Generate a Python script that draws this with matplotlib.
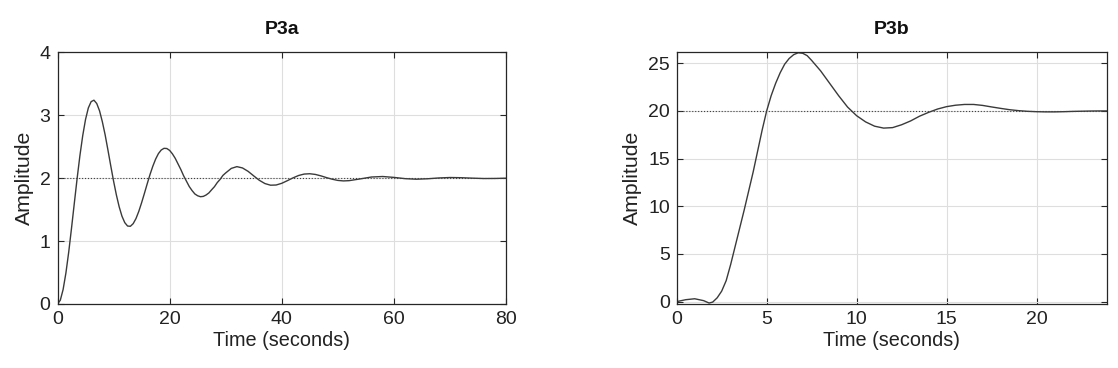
import matplotlib
matplotlib.use("Agg")
import matplotlib.pyplot as plt

plt.rcParams['font.family'] = ['Liberation Sans', 'DejaVu Sans']

# ---- P3a data ----
t_a = [0, 0.5, 1, 1.5, 2, 2.5, 3, 3.5, 4, 4.5, 5, 5.5, 6, 6.5, 7, 7.5, 8, 8.5,
       9, 9.5, 10, 10.5, 11, 11.5, 12, 12.5, 13, 13.5, 14, 14.5, 15, 15.5, 16,
       16.5, 17, 17.5, 18, 18.5, 19, 19.5, 20, 20.5, 21, 21.5, 22, 22.5, 23,
       23.5, 24, 24.5, 25, 25.5, 26, 26.5, 27, 27.5, 28, 28.5, 29, 29.5, 30,
       31, 32, 33, 34, 35, 36, 37, 38, 39, 40, 41, 42, 43, 44, 45, 46, 47, 48,
       49, 50, 51, 52, 54, 56, 58, 60, 62, 64, 66, 68, 70, 72, 74, 76, 78, 80]
y_a = [0.0, 0.060, 0.230, 0.493, 0.825, 1.205, 1.602, 1.995, 2.360, 2.676,
       2.933, 3.116, 3.216, 3.239, 3.186, 3.070, 2.896, 2.687, 2.445, 2.196,
       1.954, 1.734, 1.545, 1.395, 1.293, 1.239, 1.235, 1.277, 1.358, 1.472,
       1.609, 1.757, 1.910, 2.057, 2.189, 2.302, 2.390, 2.447, 2.474, 2.471,
       2.441, 2.386, 2.315, 2.226, 2.137, 2.037, 1.952, 1.867, 1.803, 1.749,
       1.720, 1.705, 1.710, 1.732, 1.765, 1.816, 1.865, 1.930, 1.980, 2.043,
       2.083, 2.155, 2.183, 2.162, 2.108, 2.036, 1.966, 1.914, 1.888, 1.891,
       1.918, 1.960, 2.004, 2.042, 2.065, 2.070, 2.059, 2.036, 2.008, 1.983,
       1.964, 1.956, 1.960, 1.988, 2.018, 2.026, 2.012, 1.992, 1.983, 1.990,
       2.003, 2.010, 2.007, 2.000, 1.994, 1.995, 1.999]
final_a = 2.0

# ---- P3b data ----
t_b = [0, 0.5, 1.0, 1.5, 1.8, 2.0, 2.25, 2.5, 2.75, 3.0, 3.25, 3.5, 3.75, 4.0,
       4.25, 4.5, 4.75, 5.0, 5.25, 5.5, 5.75, 6.0, 6.25, 6.5, 6.75, 7.0, 7.25,
       7.5, 8.0, 8.5, 9.0, 9.5, 10.0, 10.5, 11.0, 11.5, 12.0, 12.5, 13.0, 13.5,
       14.0, 14.5, 15.0, 15.5, 16.0, 16.5, 17.0, 17.5, 18.0, 18.5, 19.0, 19.5,
       20.0, 20.5, 21.0, 21.5, 22.0, 22.5, 23.0, 23.5, 23.9]
y_b = [0.0, 0.2, 0.3, 0.1, -0.15, -0.05, 0.4, 1.1, 2.2, 3.9, 5.8, 7.7, 9.6, 11.6,
       13.6, 15.8, 18.0, 20.0, 21.6, 22.9, 24.0, 24.9, 25.5, 25.9, 26.1, 26.05,
       25.8, 25.3, 24.2, 22.9, 21.6, 20.4, 19.5, 18.85, 18.4, 18.2, 18.25, 18.55,
       18.95, 19.45, 19.85, 20.2, 20.45, 20.6, 20.68, 20.68, 20.58, 20.42, 20.27,
       20.13, 20.03, 19.96, 19.92, 19.9, 19.9, 19.92, 19.95, 19.97, 19.99, 20.0,
       20.0]
final_b = 20.0

xticks_a = [0, 20, 40, 60, 80]
yticks_a = [0, 1, 2, 3, 4]
xticks_b = [0, 5, 10, 15, 20]
yticks_b = [0, 5, 10, 15, 20, 25]

W, H = 1118, 368
fig = plt.figure(figsize=(W / 100, H / 100), dpi=100)

def style(ax, title):
    ax.set_title(title, fontsize=14, fontweight='bold', pad=13, color='#111111')
    ax.set_xlabel('Time (seconds)', fontsize=14.3, labelpad=2, color='#222222')
    ax.set_ylabel('Amplitude', fontsize=15.3, labelpad=4, color='#222222')
    ax.grid(True, color='#dedede', linewidth=0.8)
    ax.set_axisbelow(True)
    ax.tick_params(direction='in', length=4, width=0.8, top=True, right=True,
                   labelsize=14, color='#262626', labelcolor='#222222', pad=5)
    for s in ax.spines.values():
        s.set_color('#262626')
        s.set_linewidth(0.9)

ax1 = fig.add_axes([57.5 / W, 1 - 304 / H, (506 - 57.5) / W, (304 - 52.3) / H])
ax1.plot(t_a, y_a, color='#3a3a3a', linewidth=1.0)
ax1.axhline(final_a, color='#404040', linestyle=':', linewidth=0.8)
ax1.set_xlim(0, 80)
ax1.set_ylim(0, 4)
ax1.set_xticks(xticks_a)
ax1.set_yticks(yticks_a)
style(ax1, 'P3a')

ax2 = fig.add_axes([676.7 / W, 1 - 304 / H, (1106.7 - 676.7) / W, (304 - 52.3) / H])
ax2.plot(t_b, y_b, color='#3a3a3a', linewidth=1.0)
ax2.axhline(final_b, color='#404040', linestyle=':', linewidth=0.8)
ax2.set_xlim(0, 23.9)
ax2.set_ylim(-0.25, 26.15)
ax2.set_xticks(xticks_b)
ax2.set_yticks(yticks_b)
style(ax2, 'P3b')

fig.savefig('out.png', dpi=100)
